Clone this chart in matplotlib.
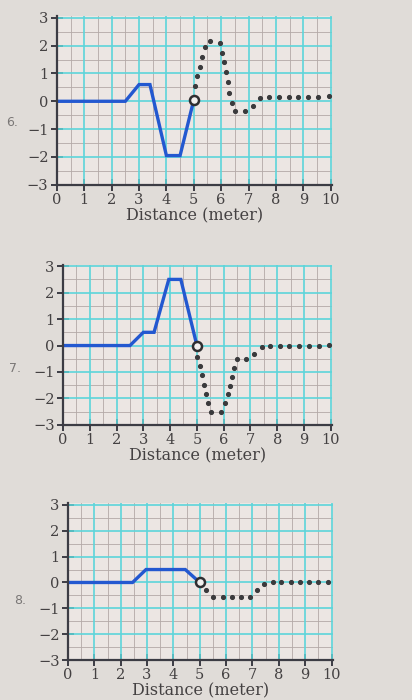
import matplotlib.pyplot as plt
import numpy as np

# problem 6
p6_solid_x = [0, 2.5, 3.0, 3.4, 4.0, 4.5, 5.0]
p6_solid_y = [0, 0, 0.6, 0.6, -1.95, -1.95, 0.05]
p6_dot_x = [5.05, 5.12, 5.21, 5.3, 5.4, 5.6, 5.94, 6.04, 6.12, 6.18, 6.25, 6.3, 6.39, 6.5,
            6.87, 7.18, 7.42, 7.76, 8.12, 8.47, 8.82, 9.18, 9.55, 9.92]
p6_dot_y = [0.54, 0.9, 1.24, 1.6, 1.95, 2.17, 2.1, 1.75, 1.4, 1.04, 0.69, 0.31, -0.05, -0.36,
            -0.36, -0.17, 0.12, 0.17, 0.17, 0.17, 0.17, 0.17, 0.17, 0.18]

# problem 7
p7_solid_x = [0, 2.5, 3.0, 3.4, 3.95, 4.4, 5.0]
p7_solid_y = [0, 0, 0.5, 0.5, 2.5, 2.5, 0]
p7_dot_x = [5.02, 5.1, 5.19, 5.27, 5.34, 5.42, 5.54, 5.89, 6.05, 6.15, 6.22, 6.31, 6.38, 6.49,
            6.84, 7.15, 7.42, 7.73, 8.1, 8.45, 8.82, 9.2, 9.57, 9.94]
p7_dot_y = [-0.44, -0.79, -1.13, -1.5, -1.85, -2.19, -2.5, -2.5, -2.19, -1.85, -1.53, -1.19,
            -0.84, -0.51, -0.51, -0.31, -0.06, 0, 0, 0, 0, 0, 0, 0.02]

# problem 8
p8_solid_x = [0, 2.45, 2.96, 4.45, 5.0]
p8_solid_y = [0, 0, 0.5, 0.5, 0]
p8_dot_x = [5.25, 5.5, 5.87, 6.23, 6.58, 6.92, 7.17, 7.42, 7.76, 8.1, 8.45, 8.8, 9.15, 9.5, 9.87]
p8_dot_y = [-0.29, -0.55, -0.55, -0.55, -0.55, -0.55, -0.29, -0.06, 0, 0, 0, 0, 0, 0, 0]

problems = [
    ("6.", p6_solid_x, p6_solid_y, p6_dot_x, p6_dot_y, [0.138, 0.736, 0.668, 0.241], (12, 123)),
    ("7.", p7_solid_x, p7_solid_y, p7_dot_x, p7_dot_y, [0.153, 0.393, 0.653, 0.229], (15, 369)),
    ("8.", p8_solid_x, p8_solid_y, p8_dot_x, p8_dot_y, [0.165, 0.057, 0.643, 0.224], (20, 600)),
]

x_ticks = list(range(0, 11))
y_ticks = [-3, -2, -1, 0, 1, 2, 3]
y_labels = ['\u22123', '\u22122', '\u22121', '0', '1', '2', '3']

text_col = '#444142'
fig = plt.figure(figsize=(4.12, 7.0), dpi=100)
fig.patch.set_facecolor('#e0dcd8')

for num, sx, sy, dx, dy, pos, numpos in problems:
    ax = fig.add_axes(pos)
    ax.set_facecolor('#ece6e3')
    ax.set_xlim(0, 10.05)
    ax.set_ylim(-3, 3.06)

    # paper grid
    for v in np.arange(0.5, 10.5, 1.0):
        ax.axvline(v, color='#b3a9a7', lw=0.6, zorder=1)
    for v in np.arange(-2.5, 3.0, 1.0):
        ax.axhline(v, color='#b3a9a7', lw=0.6, zorder=1)
    for v in range(1, 11):
        ax.axvline(v, color='#5cd5da', lw=1.2, zorder=2)
    for v in range(-2, 4):
        ax.axhline(v, color='#5cd5da', lw=1.2, zorder=2)

    ax.plot(sx, sy, color='#2358d0', lw=2.4, solid_joinstyle='miter', zorder=4)
    ax.plot(dx, dy, 'o', color='#3a3a3c', ms=2.7, zorder=4)
    ax.plot([5], [sy[-1]], 'o', mfc='#f2f0ee', mec='#2e2e30', ms=6.5, mew=1.8, zorder=5)

    for s in ['top', 'right']:
        ax.spines[s].set_visible(False)
    for s in ['left', 'bottom']:
        ax.spines[s].set_color('#3c3c44')
        ax.spines[s].set_linewidth(1.6)
        ax.spines[s].set_zorder(6)

    ax.set_xticks(x_ticks)
    ax.set_yticks(y_ticks)
    ax.set_yticklabels(y_labels)
    ax.tick_params(direction='inout', length=8, width=1.4, color='#3c3c44',
                   labelcolor=text_col, labelsize=10.5, pad=2)
    for lab in ax.get_xticklabels() + ax.get_yticklabels():
        lab.set_fontfamily('DejaVu Serif')
    ax.set_xlabel('Distance (meter)', fontfamily='DejaVu Serif', fontsize=11.5,
                  color=text_col, labelpad=0)

    fig.text(numpos[0] / 412, 1 - numpos[1] / 700, num, fontsize=9, color='#7a7776',
             ha='center', va='center')

fig.savefig('out.png', dpi=100, facecolor=fig.get_facecolor())
